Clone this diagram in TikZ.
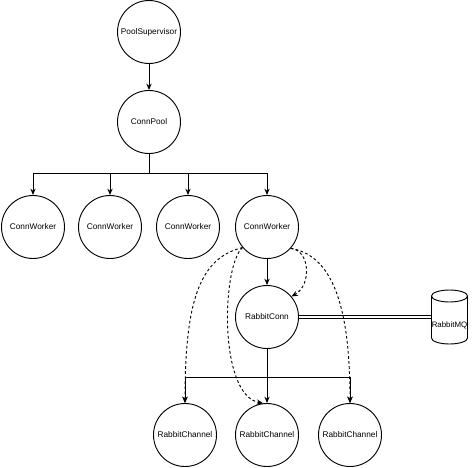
\documentclass[tikz,border=0pt]{standalone}
\usepackage{fontspec}
\setmainfont{Liberation Sans}
\usetikzlibrary{arrows.meta}
\begin{document}
\begin{tikzpicture}[x=0.75pt,y=-0.75pt,
  circ/.style={circle, draw, line width=0.7pt, minimum size=47.25pt, inner sep=0pt, font=\fontsize{6.2}{7.5}\selectfont},
  conn/.style={line width=0.7pt},
  arr/.style={conn, -{Stealth[length=4.8pt,width=4pt]}},
  dsh/.style={arr, dash pattern=on 2pt off 1.8pt}]
\useasboundingbox (0,0) rectangle (474,467);
\node[circ] (ps) at (149,32) {PoolSupervisor};
\node[circ] (cp) at (149,122) {ConnPool};
\node[circ] (cw1) at (33,227) {ConnWorker};
\node[circ] (cw2) at (110,227) {ConnWorker};
\node[circ] (cw3) at (188,227) {ConnWorker};
\node[circ] (cw4) at (267,227) {ConnWorker};
\node[circ] (rc) at (267,317) {RabbitConn};
\node[circ] (ch1) at (185,435) {RabbitChannel};
\node[circ] (ch2) at (267,435) {RabbitChannel};
\node[circ] (ch3) at (350,435) {RabbitChannel};
% RabbitMQ cylinder
\draw[line width=0.7pt] (449.5,296) ellipse[x radius=13.5pt, y radius=4.5pt];
\draw[line width=0.7pt] (431.5,296) -- (431.5,338) arc[start angle=180, end angle=360, x radius=13.5pt, y radius=4.5pt] -- (467.5,296);
\node[minimum width=27pt, inner sep=0pt, font=\fontsize{5.9}{7}\selectfont] (mq) at (449.5,325) {RabbitMQ};
\coordinate (s1) at (149,173);
\coordinate (s2) at (267,377);
\draw[arr] (ps) -- (cp);
\draw[conn] (cp.south) -- (s1);
\draw[arr] (s1) -| (cw1.north);
\draw[arr] (s1) -| (cw2.north);
\draw[arr] (s1) -| (cw3.north);
\draw[arr] (s1) -| (cw4.north);
\draw[arr] (cw4) -- (rc);
\draw[conn] (rc.south) -- (s2);
\draw[arr] (s2) -- (ch2.north);
\draw[arr] (s2) -| (ch1.north);
\draw[arr] (s2) -| (ch3.north);
\draw[conn, double, double distance=1.8pt] (rc.east) -- (rc.east -| mq.west);
% dashed curves
\draw[dsh] (cw4.220) .. controls (200,258) and (185,300) .. (ch1.north);
\draw[dsh] (cw4.220) .. controls (222,265) and (218,395) .. (ch2.97);
\draw[dsh] (cw4.318) .. controls (310,250) and (312,285) .. (rc.40);
\draw[dsh] (cw4.318) .. controls (330,255) and (350,300) .. (ch3.north);
\end{tikzpicture}
\end{document}
